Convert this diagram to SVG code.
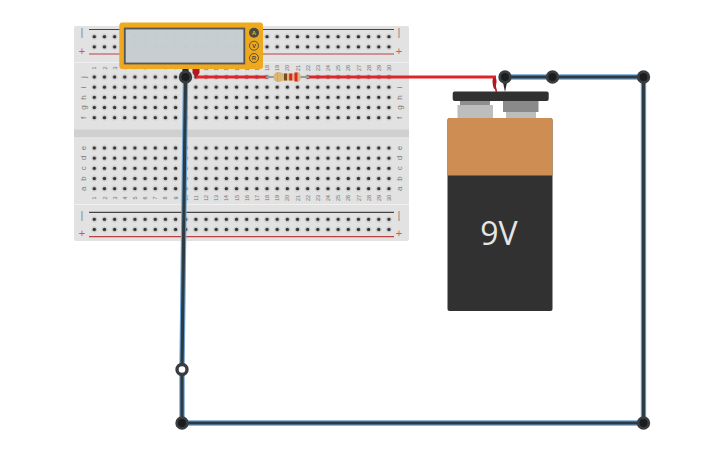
<svg xmlns="http://www.w3.org/2000/svg" width="725" height="453" viewBox="0 0 725 453">
<style>
.n{font:5.4px "Liberation Sans",Arial,sans-serif;fill:#707070;text-anchor:middle}
.l{font:8px "Liberation Sans",Arial,sans-serif;fill:#777;text-anchor:middle}
.s{font:11px "Liberation Sans",Arial,sans-serif;text-anchor:middle}
.halo{fill:none;stroke:#6da3d2;stroke-width:5.4;stroke-linejoin:round}
.core{fill:none;stroke:#2c3a42;stroke-width:3.2;stroke-linejoin:round}
.j{fill:#1a1c1e;stroke:#3a3d40;stroke-width:2.8}
.t{font:bold 6px "Liberation Sans",Arial,sans-serif;text-anchor:middle}
</style>
<defs>
<pattern id="holes" patternUnits="userSpaceOnUse" width="10.16" height="10.17">
<circle cx="5.08" cy="5.08" r="3" fill="#d2d2d2"/>
<circle cx="5.08" cy="5.08" r="1.7" fill="#2f2f2f"/>
</pattern>
</defs>
<rect width="725" height="453" fill="#fff"/>
<g id="breadboard" opacity=".99">
<rect x="74" y="26" width="335" height="215" rx="2" fill="#e2e2e2"/>
<rect x="74" y="129.5" width="335" height="7.5" fill="#d0d0d0"/>
<path d="M74 62.5H409M74 204.5H409" stroke="#f0f0f0" stroke-width="1" fill="none"/>
<path d="M89 29.500H394M89 212.300H394" stroke="#444" stroke-width="1.200" fill="none"/>
<path d="M89 54H394M89 236.700H394" stroke="#b8403f" stroke-width="1.200" fill="none"/>
<rect transform="translate(89.22 31.6)" width="304.8" height="20.34" fill="url(#holes)"/>
<rect transform="translate(89.22 71.9)" width="304.8" height="50.85" fill="url(#holes)"/>
<rect transform="translate(89.22 142.9)" width="304.8" height="50.85" fill="url(#holes)"/>
<rect transform="translate(89.22 214.2)" width="304.8" height="20.34" fill="url(#holes)"/>
<text class="s" x="82" y="36" fill="#888">|</text><text class="s" x="399" y="36" fill="#888">|</text>
<text class="s" x="82" y="55" fill="#d9504e">+</text><text class="s" x="399" y="55" fill="#d9504e">+</text>
<text class="s" x="82" y="219" fill="#888">|</text><text class="s" x="399" y="219" fill="#888">|</text>
<text class="s" x="82" y="237" fill="#d9504e">+</text><text class="s" x="399" y="237" fill="#d9504e">+</text>
<g id="letters">
<text class="l" transform="translate(86 77) rotate(-90)">j</text><text class="l" transform="translate(86 87.3) rotate(-90)">i</text><text class="l" transform="translate(86 97.5) rotate(-90)">h</text><text class="l" transform="translate(86 107.6) rotate(-90)">g</text><text class="l" transform="translate(86 117.8) rotate(-90)">f</text>
<text class="l" transform="translate(402 77) rotate(-90)">j</text><text class="l" transform="translate(402 87.3) rotate(-90)">i</text><text class="l" transform="translate(402 97.5) rotate(-90)">h</text><text class="l" transform="translate(402 107.6) rotate(-90)">g</text><text class="l" transform="translate(402 117.8) rotate(-90)">f</text>
<text class="l" transform="translate(86 148) rotate(-90)">e</text><text class="l" transform="translate(86 158) rotate(-90)">d</text><text class="l" transform="translate(86 168.3) rotate(-90)">c</text><text class="l" transform="translate(86 178.5) rotate(-90)">b</text><text class="l" transform="translate(86 188.7) rotate(-90)">a</text>
<text class="l" transform="translate(402 148) rotate(-90)">e</text><text class="l" transform="translate(402 158) rotate(-90)">d</text><text class="l" transform="translate(402 168.3) rotate(-90)">c</text><text class="l" transform="translate(402 178.5) rotate(-90)">b</text><text class="l" transform="translate(402 188.7) rotate(-90)">a</text>
</g>
<g id="numbers">
<text class="n" transform="translate(96.3 68) rotate(-90)">1</text><text class="n" transform="translate(106.5 68) rotate(-90)">2</text><text class="n" transform="translate(116.6 68) rotate(-90)">3</text><text class="n" transform="translate(126.8 68) rotate(-90)">4</text><text class="n" transform="translate(136.9 68) rotate(-90)">5</text><text class="n" transform="translate(147.1 68) rotate(-90)">6</text><text class="n" transform="translate(157.3 68) rotate(-90)">7</text><text class="n" transform="translate(167.4 68) rotate(-90)">8</text><text class="n" transform="translate(177.6 68) rotate(-90)">9</text><text class="n" transform="translate(187.7 68) rotate(-90)">10</text><text class="n" transform="translate(197.9 68) rotate(-90)">11</text><text class="n" transform="translate(208.1 68) rotate(-90)">12</text><text class="n" transform="translate(218.2 68) rotate(-90)">13</text><text class="n" transform="translate(228.4 68) rotate(-90)">14</text><text class="n" transform="translate(238.5 68) rotate(-90)">15</text><text class="n" transform="translate(248.7 68) rotate(-90)">16</text><text class="n" transform="translate(258.9 68) rotate(-90)">17</text><text class="n" transform="translate(269 68) rotate(-90)">18</text><text class="n" transform="translate(279.2 68) rotate(-90)">19</text><text class="n" transform="translate(289.3 68) rotate(-90)">20</text><text class="n" transform="translate(299.5 68) rotate(-90)">21</text><text class="n" transform="translate(309.7 68) rotate(-90)">22</text><text class="n" transform="translate(319.8 68) rotate(-90)">23</text><text class="n" transform="translate(330 68) rotate(-90)">24</text><text class="n" transform="translate(340.1 68) rotate(-90)">25</text><text class="n" transform="translate(350.3 68) rotate(-90)">26</text><text class="n" transform="translate(360.5 68) rotate(-90)">27</text><text class="n" transform="translate(370.6 68) rotate(-90)">28</text><text class="n" transform="translate(380.8 68) rotate(-90)">29</text><text class="n" transform="translate(390.9 68) rotate(-90)">30</text>
<text class="n" transform="translate(96.3 198) rotate(-90)">1</text><text class="n" transform="translate(106.5 198) rotate(-90)">2</text><text class="n" transform="translate(116.6 198) rotate(-90)">3</text><text class="n" transform="translate(126.8 198) rotate(-90)">4</text><text class="n" transform="translate(136.9 198) rotate(-90)">5</text><text class="n" transform="translate(147.1 198) rotate(-90)">6</text><text class="n" transform="translate(157.3 198) rotate(-90)">7</text><text class="n" transform="translate(167.4 198) rotate(-90)">8</text><text class="n" transform="translate(177.6 198) rotate(-90)">9</text><text class="n" transform="translate(187.7 198) rotate(-90)">10</text><text class="n" transform="translate(197.9 198) rotate(-90)">11</text><text class="n" transform="translate(208.1 198) rotate(-90)">12</text><text class="n" transform="translate(218.2 198) rotate(-90)">13</text><text class="n" transform="translate(228.4 198) rotate(-90)">14</text><text class="n" transform="translate(238.5 198) rotate(-90)">15</text><text class="n" transform="translate(248.7 198) rotate(-90)">16</text><text class="n" transform="translate(258.9 198) rotate(-90)">17</text><text class="n" transform="translate(269 198) rotate(-90)">18</text><text class="n" transform="translate(279.2 198) rotate(-90)">19</text><text class="n" transform="translate(289.3 198) rotate(-90)">20</text><text class="n" transform="translate(299.5 198) rotate(-90)">21</text><text class="n" transform="translate(309.7 198) rotate(-90)">22</text><text class="n" transform="translate(319.8 198) rotate(-90)">23</text><text class="n" transform="translate(330 198) rotate(-90)">24</text><text class="n" transform="translate(340.1 198) rotate(-90)">25</text><text class="n" transform="translate(350.3 198) rotate(-90)">26</text><text class="n" transform="translate(360.5 198) rotate(-90)">27</text><text class="n" transform="translate(370.6 198) rotate(-90)">28</text><text class="n" transform="translate(380.8 198) rotate(-90)">29</text><text class="n" transform="translate(390.9 198) rotate(-90)">30</text>
</g>
</g>
<g id="connectors">
<path d="M196 77H267" stroke="#e1242b" stroke-width="2.800" fill="none"/>
<path d="M307 77H496" stroke="#e1242b" stroke-width="2.800" fill="none"/>
<path class="halo" d="M505 77H643.500V423H182V369.500L185.500 77"/>
<path class="core" d="M505 77H643.500V423H182V369.500L185.500 77"/>
</g>
<g id="resistor">
<path d="M266 77H309" stroke="#9a9a9a" stroke-width="1.800"/>
<path d="M273.500 77c0-3.500 2-5 5-5 2.500 0 3.500 1.500 5.500 1.500h10c2 0 3-1.500 3.500-1.500 2 0 3.200 2 3.200 5s-1.200 5-3.200 5c-.5 0-1.500-1.500-3.500-1.500h-10c-2 0-3 1.500-5.500 1.500-3 0-5-1.500-5-5z" fill="#d9b877"/>
<rect x="277" y="73" width="1" height="8" fill="#c9a763"/>
<rect x="284" y="73.500" width="3" height="7" fill="#7a4a20"/>
<rect x="289.200" y="73.500" width="3" height="7" fill="#e1242b"/>
<rect x="294.500" y="72.500" width="3" height="9" fill="#e1242b"/>
</g>
<g id="battery">
<rect x="447.500" y="118" width="105" height="193" rx="2" fill="#313131"/>
<path d="M447.500 175.500V120a2 2 0 0 1 2-2h101a2 2 0 0 1 2 2v55.500z" fill="#ce8d52"/>
<rect x="457.500" y="105" width="35.500" height="13" fill="#bdbdbd"/>
<rect x="460" y="100" width="30" height="5" fill="#8f8f8f"/>
<rect x="506" y="111" width="30" height="7" fill="#bdbdbd"/>
<rect x="503" y="100" width="35.500" height="12" fill="#8a8a8a"/>
<rect x="452.700" y="91.500" width="96" height="9.500" rx="2" fill="#313131"/>
<text x="499" y="245" font-family="'Open Sans',sans-serif" font-size="32" fill="#e8e8e8" text-anchor="middle" opacity=".99">9V</text>
</g>
<g id="probe-red">
<path d="M494.500 84L496.500 92" stroke="#b3171f" stroke-width="1.600"/>
<path d="M492.500 81c0-3 1-3.500 2-3.500s2 .5 2 3.500-1 8-2 8-2-5-2-8z" fill="#b3171f"/>
</g>
<g id="probe-black">
<path d="M502.500 80h5L505 92z" fill="#2a2a2a"/>
</g>
<g id="multimeter" opacity=".99">
<rect x="182.500" y="68" width="6" height="5" fill="#222"/>
<path d="M192.500 68h7v5l-2 3h-3l-2-3z" fill="#b3171f"/>
<rect x="119.300" y="22.500" width="143.700" height="46.500" rx="3" fill="#f0a91c"/>
<rect x="124.800" y="28.500" width="119.500" height="35" fill="#c6ced1" stroke="#555" stroke-width="1.800"/>
<circle cx="254" cy="32.700" r="5" fill="#4a4a45"/>
<text class="t" x="254" y="35" fill="#f0a91c">A</text>
<circle cx="254" cy="45.700" r="4.500" fill="none" stroke="#4a4a30" stroke-width=".9"/>
<text class="t" x="254" y="48" fill="#4a4a30">V</text>
<circle cx="254" cy="58" r="4.500" fill="none" stroke="#4a4a30" stroke-width=".9"/>
<text class="t" x="254" y="60.300" fill="#4a4a30">R</text>
</g>
<g id="junctions">
<circle class="j" cx="185.500" cy="77" r="5.300"/>
<circle class="j" cx="505" cy="77" r="5.300"/>
<circle class="j" cx="552.500" cy="77" r="5.300"/>
<circle class="j" cx="643.500" cy="77" r="5.300"/>
<circle class="j" cx="643.500" cy="423" r="5.300"/>
<circle class="j" cx="182" cy="423" r="5.300"/>
<circle cx="182" cy="369.500" r="5" fill="#fff" stroke="#3a3d40" stroke-width="3.400"/>
</g>
</svg>
